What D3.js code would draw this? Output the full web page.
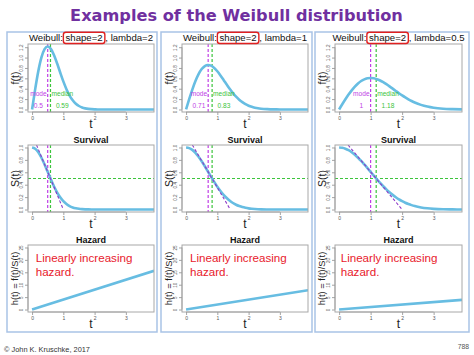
<!DOCTYPE html>
<html><head><meta charset="utf-8">
<script src="https://cdn.jsdelivr.net/npm/d3@7/dist/d3.min.js"></script>
<style>body{margin:0;background:#fff}svg{display:block}</style>
</head><body><svg id="c" width="474" height="355"></svg>
<script>
// ---------- data ----------
const tGrid = [0,0.1,0.2,0.3,0.4,0.5,0.6,0.7,0.8,0.9,1.0,1.1,1.2,1.3,1.4,1.5,1.6,1.7,1.8,1.9,2.0,2.1,2.2,2.3,2.4,2.6,2.8,3.0,3.3,3.6,3.9];
const lambdaValues = [2, 1, 0.5];
const densityL2  = [0,0.392,0.739,1.002,1.162,1.213,1.168,1.051,0.890,0.712,0.541,0.391,0.269,0.177,0.111,0.067,0.038,0.021,0.011,0.006,0.003,0.001,0.001,0,0,0,0,0,0,0,0];
const densityL1  = [0,0.198,0.384,0.548,0.682,0.779,0.837,0.858,0.844,0.801,0.736,0.656,0.569,0.480,0.394,0.316,0.247,0.189,0.141,0.103,0.073,0.051,0.035,0.023,0.015,0.006,0.002,0.001,0,0,0];
const densityL05 = [0,0.100,0.196,0.287,0.369,0.441,0.501,0.548,0.581,0.600,0.607,0.601,0.584,0.558,0.525,0.487,0.445,0.401,0.356,0.312,0.271,0.232,0.196,0.163,0.135,0.089,0.056,0.033,0.014,0.006,0.002];
const survivalL2  = [1,0.980,0.923,0.835,0.726,0.607,0.487,0.375,0.278,0.198,0.135,0.089,0.056,0.034,0.020,0.011,0.006,0.003,0.002,0.001,0,0,0,0,0,0,0,0,0,0,0];
const survivalL1  = [1,0.990,0.961,0.914,0.852,0.779,0.698,0.613,0.527,0.445,0.368,0.298,0.237,0.185,0.141,0.105,0.077,0.056,0.039,0.027,0.018,0.012,0.008,0.005,0.003,0.001,0,0,0,0,0];
const survivalL05 = [1,0.995,0.980,0.956,0.923,0.883,0.835,0.783,0.726,0.667,0.607,0.546,0.487,0.430,0.375,0.325,0.278,0.236,0.198,0.164,0.135,0.110,0.089,0.071,0.056,0.034,0.020,0.011,0.004,0.002,0.0005];
const hazardT = [0, 3.9];
const hazardL2  = [0, 15.6];
const hazardL1  = [0, 7.8];
const hazardL05 = [0, 3.9];
const modeValues   = [0.5, 0.707, 1.0];
const medianValues = [0.589, 0.833, 1.177];
const modeLabels   = ["0.5", "0.71", "1"];
const medianLabels = ["0.59", "0.83", "1.18"];
const tangentT = [[0.143, 1.0], [0.202, 1.414], [0.285, 2.0]];
const tangentS = [1.04, 0];
const xTicks = [0, 1, 2, 3];
const densityTicks  = [0, 0.2, 0.4, 0.6, 0.8, 1.0, 1.2];
const survivalTicks = [0, 0.2, 0.4, 0.6, 0.8, 1.0];
const hazardTicks   = [0, 5, 10, 15, 20, 25];
const densitySeries  = [densityL2, densityL1, densityL05];
const survivalSeries = [survivalL2, survivalL1, survivalL05];
const hazardSeries   = [hazardL2, hazardL1, hazardL05];

// ---------- layout ----------
const svg = d3.select("#c");
const FONT = "Liberation Sans, Arial, sans-serif";
const CURVE = "#67BDE2", MODE = "#C03FE6", MED = "#3CC43C", TAN = "#8E3CC8", FRAME = "#A8A8A8", TICK = "#666";
const cols = [
  {left: 28, right: 154, box: [7, 157], redX: 35.7},
  {left: 182, right: 308, box: [161, 312], redX: 190},
  {left: 335, right: 462, box: [315, 469], redX: 340.7}
];
const rows = {
  density:  {top: 44, bottom: 112, domain: [-0.0485, 1.2616], ticks: densityTicks, fmt: d3.format(".1f"), label: "f(t)"},
  survival: {top: 145, bottom: 212, domain: [-0.04, 1.04], ticks: survivalTicks, fmt: d3.format(".1f"), label: "S(t)"},
  hazard:   {top: 245, bottom: 312, domain: [-1, 26], ticks: hazardTicks, fmt: d3.format("d"), label: "h(t) = f(t)/S(t)"}
};

// column boxes
cols.forEach(c => {
  svg.append("rect").attr("x", c.box[0]).attr("y", 32).attr("width", c.box[1]-c.box[0]).attr("height", 300)
    .attr("fill", "none").attr("stroke", "#A9C3E6").attr("stroke-width", 1.5);
});

// main title
const title = svg.append("text").attr("x", 236.5).attr("y", 21).attr("text-anchor", "middle")
  .attr("font-family", "DejaVu Sans, Verdana, sans-serif").attr("font-weight", "bold").attr("font-size", 17)
  .attr("fill", "#7030A0").text("Examples of the Weibull distribution");
{
  const w = title.node().getComputedTextLength();
  title.attr("font-size", 17 * 333 / w);
}

let clipId = 0;
function panel(ci, rowKey) {
  const c = cols[ci], r = rows[rowKey];
  const x = d3.scaleLinear().domain([-0.13, 3.9]).range([c.left, c.right]);
  const y = d3.scaleLinear().domain(r.domain).range([r.bottom, r.top]);
  const g = svg.append("g");
  const id = "clip" + (clipId++);
  svg.append("clipPath").attr("id", id).append("rect")
    .attr("x", c.left).attr("y", r.top).attr("width", c.right - c.left).attr("height", r.bottom - r.top);
  const plot = g.append("g").attr("clip-path", `url(#${id})`);
  // axes
  const xa = g.append("g").attr("transform", `translate(0,${r.bottom})`)
    .call(d3.axisBottom(x).tickValues(xTicks).tickSize(3).tickPadding(1.5).tickFormat(d3.format("d")));
  xa.select(".domain").remove();
  xa.append("line").attr("x1", x(xTicks[0])).attr("x2", x(xTicks[xTicks.length-1])).attr("stroke", TICK).attr("stroke-width", 0.6);
  xa.selectAll(".tick line").attr("stroke", TICK).attr("stroke-width", 0.6);
  xa.selectAll(".tick text").attr("font-size", 5).attr("font-family", FONT).attr("fill", "#555");
  const ya = g.append("g").attr("transform", `translate(${c.left},0)`)
    .call(d3.axisLeft(y).tickValues(r.ticks).tickSize(3).tickFormat(r.fmt));
  ya.select(".domain").remove();
  ya.append("line").attr("y1", y(r.ticks[0])).attr("y2", y(r.ticks[r.ticks.length-1])).attr("stroke", TICK).attr("stroke-width", 0.6);
  ya.selectAll(".tick line").attr("stroke", TICK).attr("stroke-width", 0.6);
  ya.selectAll(".tick text").attr("font-size", 4.6).attr("font-family", FONT).attr("fill", "#555")
    .attr("x", -5.5).attr("dy", 0).attr("text-anchor", "middle").attr("transform", "rotate(-90,-5.5,0)");
  // labels
  svg.append("text").attr("x", (c.left + c.right) / 2).attr("y", r.bottom + 15.5).attr("text-anchor", "middle")
    .attr("font-family", FONT).attr("font-size", 12).attr("fill", "#222").text("t");
  const lx = c.left - 13, ly = (r.top + r.bottom) / 2;
  svg.append("text").attr("x", lx).attr("y", ly).attr("text-anchor", "middle")
    .attr("transform", `rotate(-90,${lx},${ly})`).attr("dy", "0.35em")
    .attr("font-family", FONT).attr("font-size", rowKey === "hazard" ? 9.3 : 10.5).attr("fill", "#222").text(r.label);
  return {x, y, g, plot, c, r};
}

const line = (x, y) => d3.line().x(d => x(d[0])).y(d => y(d[1])).curve(d3.curveMonotoneX);

for (let ci = 0; ci < 3; ci++) {
  const c = cols[ci];
  const cx = (c.left + c.right) / 2;
  // ---- density ----
  {
    const {x, y, plot, r} = panel(ci, "density");
    plot.append("line").attr("x1", x(modeValues[ci])).attr("x2", x(modeValues[ci])).attr("y1", r.top).attr("y2", r.bottom)
      .attr("stroke", MODE).attr("stroke-width", 1.2).attr("stroke-dasharray", "3,2");
    plot.append("line").attr("x1", x(medianValues[ci])).attr("x2", x(medianValues[ci])).attr("y1", r.top).attr("y2", r.bottom)
      .attr("stroke", MED).attr("stroke-width", 1.2).attr("stroke-dasharray", "3,2");
    plot.append("path").datum(tGrid.map((t, i) => [t, densitySeries[ci][i]]))
      .attr("d", line(x, y)).attr("fill", "none").attr("stroke", CURVE).attr("stroke-width", 2.6);
    // mode/median labels
    const mx = x(modeValues[ci]) - 1, dx = x(medianValues[ci]) + 1;
    const mt = svg.append("text").attr("x", mx).attr("y", y(0.31)).attr("dy", "0.35em").attr("text-anchor", "end")
      .attr("font-family", FONT).attr("font-size", 6.6).attr("fill", MODE).text("mode");
    const mw = mt.node().getComputedTextLength();
    svg.append("text").attr("x", mx - mw / 2).attr("y", y(0.08)).attr("dy", "0.35em").attr("text-anchor", "middle")
      .attr("font-family", FONT).attr("font-size", 6.6).attr("fill", MODE).text(modeLabels[ci]);
    const dt = svg.append("text").attr("x", dx).attr("y", y(0.31)).attr("dy", "0.35em").attr("text-anchor", "start")
      .attr("font-family", FONT).attr("font-size", 6.6).attr("fill", MED).text("median");
    const dw = dt.node().getComputedTextLength();
    svg.append("text").attr("x", dx + dw / 2).attr("y", y(0.08)).attr("dy", "0.35em").attr("text-anchor", "middle")
      .attr("font-family", FONT).attr("font-size", 6.6).attr("fill", MED).text(medianLabels[ci]);
    // frame
    svg.append("rect").attr("x", c.left).attr("y", r.top).attr("width", c.right - c.left).attr("height", r.bottom - r.top)
      .attr("fill", "none").attr("stroke", FRAME).attr("stroke-width", 1);
    // panel title with boxed shape
    const tt = svg.append("text").attr("x", cx).attr("y", 37.8).attr("dy", "0.35em").attr("text-anchor", "middle")
      .attr("font-family", FONT).attr("font-size", 9.6).attr("fill", "#111")
      .text(`Weibull: ${"shape=2"} , lambda=${lambdaValues[ci]}`);
    const n = tt.node();
    const sx = n.getStartPositionOfChar(9).x, ex = n.getEndPositionOfChar(15).x;
    svg.append("rect").attr("x", sx - 2.2).attr("y", 32.3).attr("width", ex - sx + 4.4).attr("height", 11.2)
      .attr("rx", 2.5).attr("fill", "none").attr("stroke", "#E02020").attr("stroke-width", 1.4);
  }
  // ---- survival ----
  {
    const {x, y, plot, r} = panel(ci, "survival");
    plot.append("line").attr("x1", x(modeValues[ci])).attr("x2", x(modeValues[ci])).attr("y1", r.top).attr("y2", r.bottom)
      .attr("stroke", MODE).attr("stroke-width", 1.2).attr("stroke-dasharray", "3,2");
    plot.append("line").attr("x1", x(medianValues[ci])).attr("x2", x(medianValues[ci])).attr("y1", r.top).attr("y2", r.bottom)
      .attr("stroke", MED).attr("stroke-width", 1.2).attr("stroke-dasharray", "3,2");
    plot.append("line").attr("x1", c.left).attr("x2", c.right).attr("y1", y(0.5)).attr("y2", y(0.5))
      .attr("stroke", MED).attr("stroke-width", 1.1).attr("stroke-dasharray", "3,2");
    plot.append("path").datum(tGrid.map((t, i) => [t, survivalSeries[ci][i]]))
      .attr("d", line(x, y)).attr("fill", "none").attr("stroke", CURVE).attr("stroke-width", 2.6);
    plot.append("line").attr("x1", x(tangentT[ci][0])).attr("y1", y(tangentS[0]))
      .attr("x2", x(tangentT[ci][1])).attr("y2", y(tangentS[1]))
      .attr("stroke", TAN).attr("stroke-width", 1.1).attr("stroke-dasharray", "3,2");
    svg.append("rect").attr("x", c.left).attr("y", r.top).attr("width", c.right - c.left).attr("height", r.bottom - r.top)
      .attr("fill", "none").attr("stroke", FRAME).attr("stroke-width", 1);
    svg.append("text").attr("x", cx).attr("y", r.top - 5.5).attr("dy", "0.35em").attr("text-anchor", "middle")
      .attr("font-family", FONT).attr("font-weight", "bold").attr("font-size", 9).attr("fill", "#111").text("Survival");
  }
  // ---- hazard ----
  {
    const {x, y, plot, r} = panel(ci, "hazard");
    plot.append("path").datum(hazardT.map((t, i) => [t, hazardSeries[ci][i]]))
      .attr("d", d3.line().x(d => x(d[0])).y(d => y(d[1]))).attr("fill", "none").attr("stroke", CURVE).attr("stroke-width", 2.6);
    svg.append("rect").attr("x", c.left).attr("y", r.top).attr("width", c.right - c.left).attr("height", r.bottom - r.top)
      .attr("fill", "none").attr("stroke", FRAME).attr("stroke-width", 1);
    svg.append("text").attr("x", cx).attr("y", r.top - 5.5).attr("dy", "0.35em").attr("text-anchor", "middle")
      .attr("font-family", FONT).attr("font-weight", "bold").attr("font-size", 9).attr("fill", "#111").text("Hazard");
    const red = svg.append("text").attr("font-family", FONT).attr("font-size", 11.6).attr("fill", "#E8192C");
    red.append("tspan").attr("x", c.redX).attr("y", 261.8).text("Linearly increasing");
    red.append("tspan").attr("x", c.redX).attr("y", 275.8).text("hazard.");
  }
}

// footer
svg.append("text").attr("x", 4).attr("y", 351.5).attr("font-family", FONT).attr("font-size", 7.4).attr("fill", "#333")
  .text("© John K. Kruschke, 2017");
svg.append("text").attr("x", 469).attr("y", 349).attr("text-anchor", "end").attr("font-family", FONT).attr("font-size", 6.8).attr("fill", "#555")
  .text("788");
</script></body></html>
